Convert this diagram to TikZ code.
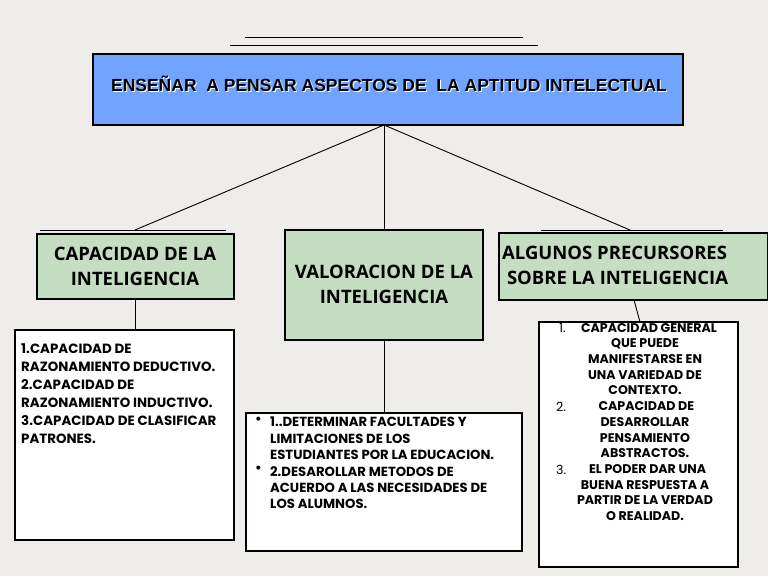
\documentclass[tikz,border=0pt]{standalone}
\usepackage{fontspec}
\setmainfont{Open Sans}
\newfontfamily\poppins{Poppins}
\newfontfamily\heros{Liberation Sans}
\definecolor{bg}{HTML}{EEEDEA}
\definecolor{blu}{HTML}{70A4FF}
\definecolor{grn}{HTML}{C5DEC1}
\tikzset{
 box/.style={draw=black,line width=1.3pt,inner sep=0pt},
 gbox/.style={box,fill=grn},
 wbox/.style={box,fill=white},
 ln/.style={line width=0.9pt},
 gt/.style={font=\bfseries\fontsize{18.5}{25}\selectfont,align=center},
 lt/.style={font=\poppins\bfseries\fontsize{13.4}{18}\selectfont,anchor=north west,align=left,inner sep=0pt},
 mt/.style={font=\poppins\bfseries\fontsize{13.2}{16.3}\selectfont,anchor=north west,align=left,inner sep=0pt},
 rt/.style={font=\poppins\bfseries\fontsize{12.6}{15.7}\selectfont,anchor=north west,align=left,inner sep=0pt},
}
\begin{document}
\begin{tikzpicture}[x=1pt,y=-1pt]
\fill[bg] (0,0) rectangle (768,576);
\useasboundingbox (0,0) rectangle (768,576);
\draw[line width=0.8pt] (245,37) -- (523,37);
\draw[line width=0.8pt] (230,45) -- (538,45);
\draw[line width=1pt] (40,230) -- (226,230);
\draw[line width=1pt] (541,230) -- (723,230);
\draw[box,fill=blu] (93,54) rectangle (683,125);
\coordinate (tc) at (384,125);
\node (title) at (390,85) {\heros\bfseries\fontsize{17.5}{20}\selectfont\color{white}ENSEÑAR\ \ A PENSAR ASPECTOS DE\ \ LA APTITUD INTELECTUAL};
\node at (389,84) {\heros\bfseries\fontsize{17.5}{20}\selectfont ENSEÑAR\ \ A PENSAR ASPECTOS DE\ \ LA APTITUD INTELECTUAL};
\draw[gbox] (37,234) rectangle (234,299);
\draw[gbox] (285,230) rectangle (483,340);
\draw[gbox] (499,233) rectangle (768,300);
\coordinate (g1) at (135,230); \coordinate (g2) at (384,230); \coordinate (g3) at (630,230);
\draw[ln] (tc) -- (g1); \draw[ln] (tc) -- (g2); \draw[ln] (tc) -- (g3);
\node[gt] (n1) at (135,266) {CAPACIDAD DE LA\\INTELIGENCIA};
\node[gt] (n2) at (384,284) {VALORACION DE LA\\INTELIGENCIA};
\node[gt,align=left,anchor=west,inner sep=0pt] (n3) at (502,265) {ALGUNOS PRECURSORES\\\ SOBRE LA INTELIGENCIA};
\draw[wbox] (15,330) rectangle (234,540);
\draw[wbox] (246,413) rectangle (522,551);
\draw[wbox] (539,322) rectangle (738,567);
\draw[ln] (135,299) -- (135,330);
\draw[ln] (384,340) -- (384,413);
\draw[ln] (634,300) -- (640,322);
\node[lt] (l1) at (21,344) {1.CAPACIDAD DE\\RAZONAMIENTO DEDUCTIVO.\\2.CAPACIDAD DE\\RAZONAMIENTO INDUCTIVO.\\3.CAPACIDAD DE CLASIFICAR\\PATRONES.};
\node[mt] (l2a) at (255,417) {•};
\node[mt] (l2) at (270,417) {1..DETERMINAR FACULTADES Y\\LIMITACIONES DE LOS\\ESTUDIANTES POR LA EDUCACION.};
\node[mt] (l2b) at (255,466) {•};
\node[mt] (l2c) at (270,466) {2.DESAROLLAR METODOS DE\\ACUERDO A LAS NECESIDADES DE\\LOS ALUMNOS.};
\node[rt,font=\poppins\fontsize{12.6}{15.7}\selectfont] at (559,323) {1.};
\node[rt,font=\poppins\fontsize{12.6}{15.7}\selectfont] at (556,402) {2.};
\node[rt,font=\poppins\fontsize{12.6}{15.7}\selectfont] at (556,465) {3.};
\node[rt,anchor=north,align=center] (l3) at (645,323) {\ \ \ CAPACIDAD GENERAL\\QUE PUEDE\\MANIFESTARSE EN\\UNA VARIEDAD DE\\CONTEXTO.\\\ CAPACIDAD DE\\DESARROLLAR\\PENSAMIENTO\\ABSTRACTOS.\\\ \ EL PODER DAR UNA\\BUENA RESPUESTA A\\PARTIR DE LA VERDAD\\O REALIDAD.};
\end{tikzpicture}
\end{document}
